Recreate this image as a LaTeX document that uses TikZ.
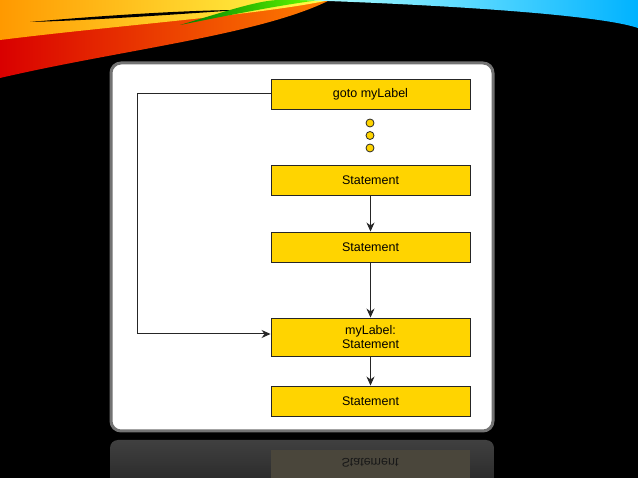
\documentclass[tikz,border=0pt]{standalone}
\usepackage{fontspec}
\setmainfont{Liberation Sans}
\usetikzlibrary{arrows.meta}
\definecolor{gold}{HTML}{FFD400}
\begin{document}
\begin{tikzpicture}[x=1pt,y=-1pt,
  blk/.style={draw=black!85,line width=0.9pt,fill=gold,minimum width=199pt,inner sep=0pt,font=\fontsize{12.5}{14}\selectfont,align=center},
  arr/.style={-{Stealth[length=9pt,width=8pt]},black!85,line width=1pt},
  dot/.style={circle,draw=black!85,line width=0.8pt,fill=gold,minimum size=8pt,inner sep=0pt}]
\useasboundingbox (0,0) rectangle (638,478);
\fill[black] (0,0) rectangle (638,478);
% top swoosh
\shade[left color=red!85!black,right color=orange] (0,0) -- (330,0) .. controls (260,35) and (120,50) .. (0,78) -- cycle;
\shade[left color=orange!80!yellow,right color=yellow!70!white] (0,0) -- (330,0) .. controls (260,15) and (120,25) .. (0,40) -- cycle;
\fill[black] (30,22) .. controls (120,14) and (200,10) .. (240,10) .. controls (180,14) and (100,20) .. (30,22) -- cycle;
\shade[left color=green!50!black,right color=green!60!yellow] (180,25) .. controls (230,10) and (260,0) .. (280,0) -- (320,0) .. controls (280,5) and (230,15) .. (180,25) -- cycle;
\shade[left color=white!70!cyan,right color=cyan!70!blue] (300,0) -- (638,0) -- (638,28) .. controls (600,15) and (450,5) .. (300,0) -- cycle;
% reflection
\shade[top color=black!75,bottom color=black!85,rounded corners=8pt] (110,440) rectangle (494,490);
\fill[yellow!18!black] (271,450) rectangle (470,480);
\node[text=black!90,yscale=-1,font=\fontsize{12.5}{14}\selectfont] (refl) at (370,463) {Statement};
% panel
\draw[black!55,line width=3pt,fill=white,rounded corners=10pt] (111,63) rectangle (493,431);
\node[blk,minimum height=30pt] (g) at (370.5,94) {goto myLabel};
\node[dot] (d1) at (370,123) {};
\node[dot] (d2) at (370,135.5) {};
\node[dot] (d3) at (370,148) {};
\node[blk,minimum height=30pt] (s1) at (370.5,180) {Statement};
\node[blk,minimum height=30pt] (s2) at (370.5,247) {Statement};
\node[blk,minimum height=38pt] (s3) at (370.5,337) {myLabel:\\Statement};
\node[blk,minimum height=30pt] (s4) at (370.5,401) {Statement};
\coordinate (c1) at (137,94);
\coordinate (c2) at (137,334);
\draw[arr] (s1) -- (s2);
\draw[arr] (s2) -- (s3);
\draw[arr] (s3) -- (s4);
\draw[arr] (g.west) -- (c1) -- (c2) -- (s3.west |- c2);
\end{tikzpicture}
\end{document}
